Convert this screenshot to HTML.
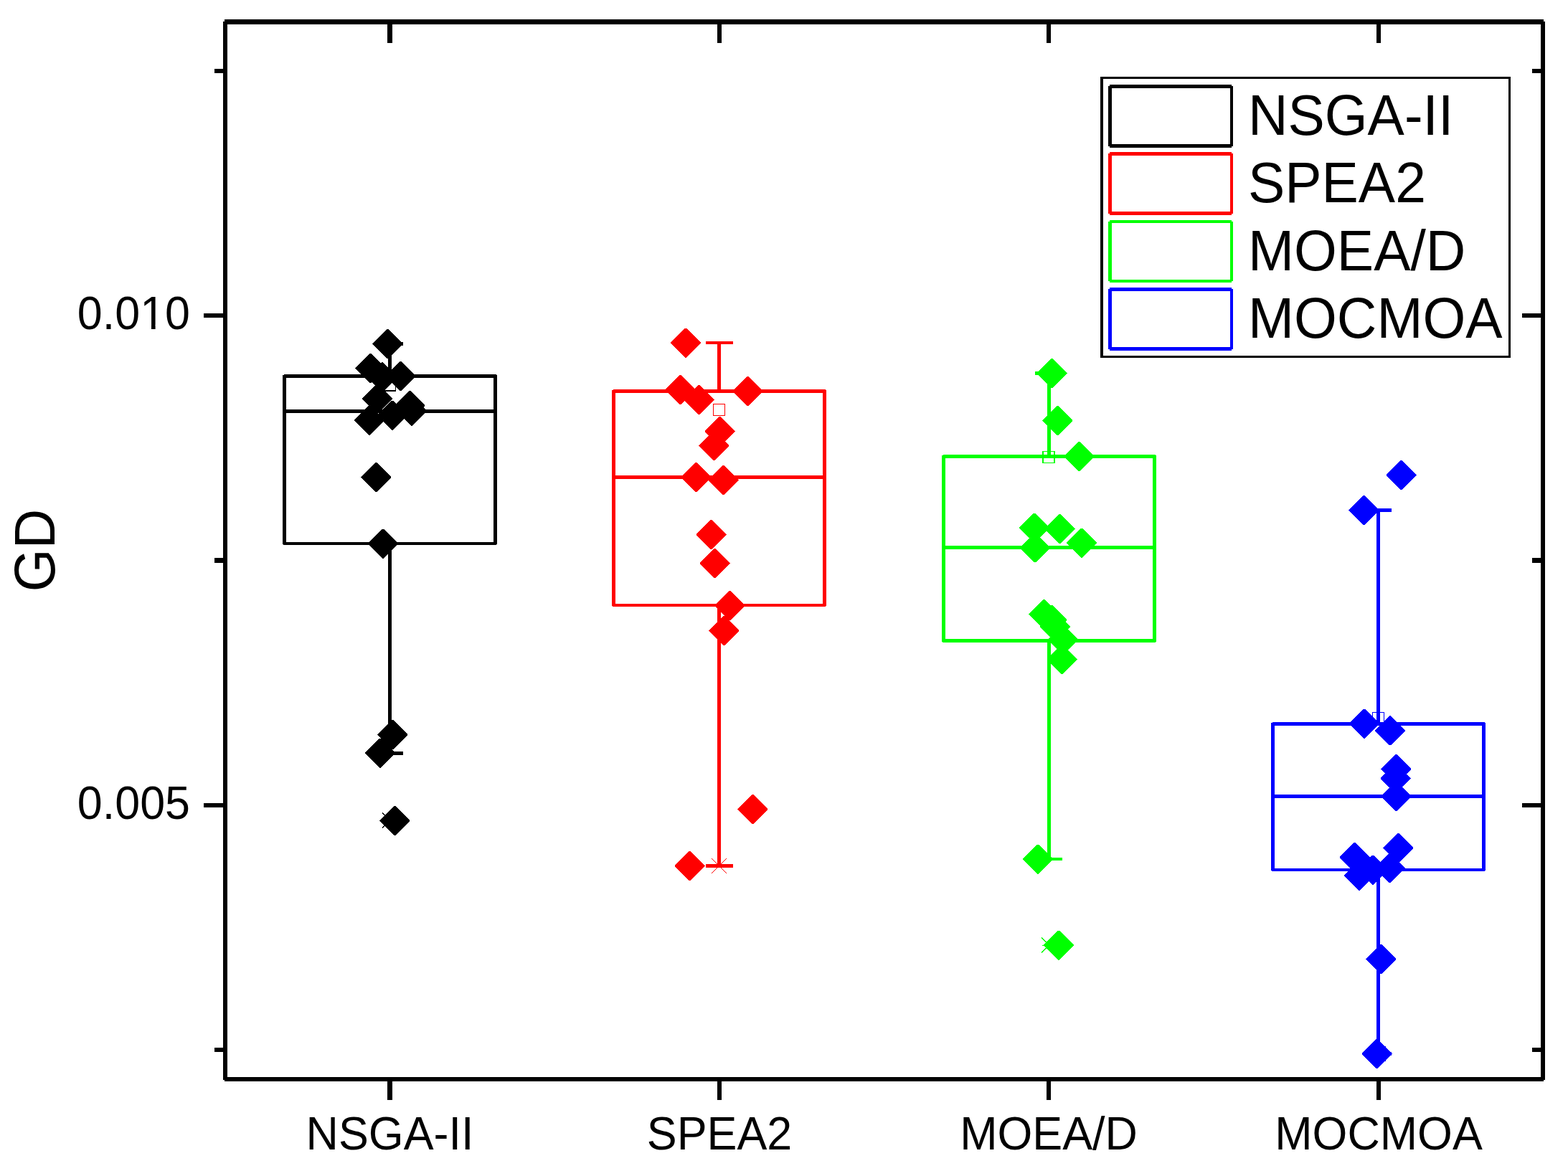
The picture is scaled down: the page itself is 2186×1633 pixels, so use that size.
<!DOCTYPE html>
<html lang="en">
<head>
<meta charset="utf-8">
<title>GD box plot</title>
<style>
html,body{margin:0;padding:0;background:#fff;}
body{width:2186px;height:1633px;overflow:hidden;}
svg{display:block;}
svg text{font-family:"Liberation Sans",Arial,Helvetica,sans-serif;font-kerning:none;}
</style>
</head>
<body>
<svg width="2186" height="1633" viewBox="0 0 2186 1633">
<rect x="0" y="0" width="2186" height="1633" fill="#ffffff"/>
<g shape-rendering="crispEdges">
<rect x="313" y="27" width="1839" height="7" fill="#000"/>
<rect x="313" y="1502" width="1839" height="6" fill="#000"/>
<rect x="311" y="30" width="6" height="1476" fill="#000"/>
<rect x="2148" y="30" width="6" height="1476" fill="#000"/>
<rect x="540" y="34" width="6.5" height="26" fill="#000"/>
<rect x="540" y="1508" width="6.5" height="26" fill="#000"/>
<rect x="999.5" y="34" width="6.5" height="26" fill="#000"/>
<rect x="999.5" y="1508" width="6.5" height="26" fill="#000"/>
<rect x="1458.5" y="34" width="6.5" height="26" fill="#000"/>
<rect x="1458.5" y="1508" width="6.5" height="26" fill="#000"/>
<rect x="1918.5" y="34" width="6.5" height="26" fill="#000"/>
<rect x="1918.5" y="1508" width="6.5" height="26" fill="#000"/>
<rect x="284" y="437" width="27" height="6" fill="#000"/>
<rect x="2122" y="437" width="26" height="6" fill="#000"/>
<rect x="284" y="1120" width="27" height="6" fill="#000"/>
<rect x="2122" y="1120" width="26" height="6" fill="#000"/>
<rect x="299" y="96" width="12" height="6" fill="#000"/>
<rect x="2136" y="96" width="12" height="6" fill="#000"/>
<rect x="299" y="778" width="12" height="7" fill="#000"/>
<rect x="2136" y="778" width="12" height="7" fill="#000"/>
<rect x="299" y="1461" width="12" height="6" fill="#000"/>
<rect x="2136" y="1461" width="12" height="6" fill="#000"/>
</g>
<g fill="#000000" stroke="none" shape-rendering="crispEdges">
<rect x="396" y="522" width="296" height="5" fill="#000000"/>
<rect x="395" y="755.5" width="297" height="4.5" fill="#000000"/>
<rect x="394" y="523" width="5" height="236" fill="#000000"/>
<rect x="688" y="523" width="5" height="236" fill="#000000"/>
<rect x="394" y="571" width="299" height="5" fill="#000000"/>
<rect x="541" y="479.5" width="5" height="42.5" fill="#000000"/>
<rect x="541" y="760" width="5" height="290.5" fill="#000000"/>
<rect x="524" y="477" width="38" height="5" fill="#000000"/>
<rect x="524" y="1048" width="38" height="5" fill="#000000"/>
</g>
<g fill="none" stroke="#000000" stroke-width="1.25" shape-rendering="crispEdges">
<rect x="535.5" y="529" width="16" height="16"/>
<path d="M533 1133.8L554 1154.8M533 1154.8L554 1133.8"/>
</g>
<g fill="#000000" stroke="none" shape-rendering="crispEdges">
<polygon points="539,459 541,459 561,479 561,480 541,500 539,500 519,480 519,479"/>
<polygon points="515,493 517,493 537,513 537,514 517,534 515,534 495,514 495,513"/>
<polygon points="557.5,504.3 559.5,504.3 579.5,524.3 579.5,525.3 559.5,545.3 557.5,545.3 537.5,525.3 537.5,524.3"/>
<polygon points="532,505.1 534,505.1 554,525.1 554,526.1 534,546.1 532,546.1 512,526.1 512,525.1"/>
<polygon points="524.9,535.7 526.9,535.7 546.9,555.7 546.9,556.7 526.9,576.7 524.9,576.7 504.9,556.7 504.9,555.7"/>
<polygon points="514.3,565.7 516.3,565.7 536.3,585.7 536.3,586.7 516.3,606.7 514.3,606.7 494.3,586.7 494.3,585.7"/>
<polygon points="545.5,558.5 547.5,558.5 567.5,578.5 567.5,579.5 547.5,599.5 545.5,599.5 525.5,579.5 525.5,578.5"/>
<polygon points="570.3,545 572.3,545 592.3,565 592.3,566 572.3,586 570.3,586 550.3,566 550.3,565"/>
<polygon points="573.3,552.7 575.3,552.7 595.3,572.7 595.3,573.7 575.3,593.7 573.3,593.7 553.3,573.7 553.3,572.7"/>
<polygon points="523.4,645 525.4,645 545.4,665 545.4,666 525.4,686 523.4,686 503.4,666 503.4,665"/>
<polygon points="532.6,737.5 534.6,737.5 554.6,757.5 554.6,758.5 534.6,778.5 532.6,778.5 512.6,758.5 512.6,757.5"/>
<polygon points="546.3,1004 548.3,1004 568.3,1024 568.3,1025 548.3,1045 546.3,1045 526.3,1025 526.3,1024"/>
<polygon points="529,1029.5 531,1029.5 551,1049.5 551,1050.5 531,1070.5 529,1070.5 509,1050.5 509,1049.5"/>
<polygon points="549.4,1123.8 551.4,1123.8 571.4,1143.8 571.4,1144.8 551.4,1164.8 549.4,1164.8 529.4,1144.8 529.4,1143.8"/>
</g>
<g fill="#ff0000" stroke="none" shape-rendering="crispEdges">
<rect x="855" y="543" width="296" height="5" fill="#ff0000"/>
<rect x="854" y="841.5" width="297" height="4.5" fill="#ff0000"/>
<rect x="853" y="544" width="5" height="301" fill="#ff0000"/>
<rect x="1147" y="544" width="5" height="301" fill="#ff0000"/>
<rect x="853" y="663" width="299" height="5" fill="#ff0000"/>
<rect x="1000" y="478" width="5" height="65" fill="#ff0000"/>
<rect x="1000" y="846" width="5" height="361.5" fill="#ff0000"/>
<rect x="984" y="476" width="38" height="4" fill="#ff0000"/>
<rect x="984" y="1205" width="38" height="5" fill="#ff0000"/>
</g>
<g fill="none" stroke="#ff0000" stroke-width="1.25" shape-rendering="crispEdges">
<rect x="994.5" y="563.5" width="16" height="16"/>
<path d="M992 1197L1013 1218M992 1218L1013 1197"/>
</g>
<g fill="#ff0000" stroke="none" shape-rendering="crispEdges">
<polygon points="954.9,457.9 956.9,457.9 976.9,477.9 976.9,478.9 956.9,498.9 954.9,498.9 934.9,478.9 934.9,477.9"/>
<polygon points="947.5,523 949.5,523 969.5,543 969.5,544 949.5,564 947.5,564 927.5,544 927.5,543"/>
<polygon points="973.7,536.9 975.7,536.9 995.7,556.9 995.7,557.9 975.7,577.9 973.7,577.9 953.7,557.9 953.7,556.9"/>
<polygon points="1041.9,525 1043.9,525 1063.9,545 1063.9,546 1043.9,566 1041.9,566 1021.9,546 1021.9,545"/>
<polygon points="1002.8,581 1004.8,581 1024.8,601 1024.8,602 1004.8,622 1002.8,622 982.8,602 982.8,601"/>
<polygon points="994.3,601 996.3,601 1016.3,621 1016.3,622 996.3,642 994.3,642 974.3,622 974.3,621"/>
<polygon points="969.2,645 971.2,645 991.2,665 991.2,666 971.2,686 969.2,686 949.2,666 949.2,665"/>
<polygon points="1007.5,648.7 1009.5,648.7 1029.5,668.7 1029.5,669.7 1009.5,689.7 1007.5,689.7 987.5,669.7 987.5,668.7"/>
<polygon points="990.6,725.3 992.6,725.3 1012.6,745.3 1012.6,746.3 992.6,766.3 990.6,766.3 970.6,746.3 970.6,745.3"/>
<polygon points="995.5,765 997.5,765 1017.5,785 1017.5,786 997.5,806 995.5,806 975.5,786 975.5,785"/>
<polygon points="1016.5,823.7 1018.5,823.7 1038.5,843.7 1038.5,844.7 1018.5,864.7 1016.5,864.7 996.5,844.7 996.5,843.7"/>
<polygon points="1008.1,859.1 1010.1,859.1 1030.1,879.1 1030.1,880.1 1010.1,900.1 1008.1,900.1 988.1,880.1 988.1,879.1"/>
<polygon points="1048.2,1107.9 1050.2,1107.9 1070.2,1127.9 1070.2,1128.9 1050.2,1148.9 1048.2,1148.9 1028.2,1128.9 1028.2,1127.9"/>
<polygon points="960.7,1187 962.7,1187 982.7,1207 982.7,1208 962.7,1228 960.7,1228 940.7,1208 940.7,1207"/>
</g>
<g fill="#00ff00" stroke="none" shape-rendering="crispEdges">
<rect x="1315" y="634" width="296" height="5" fill="#00ff00"/>
<rect x="1314" y="891" width="297" height="5" fill="#00ff00"/>
<rect x="1313" y="635" width="5" height="260" fill="#00ff00"/>
<rect x="1607" y="635" width="5" height="260" fill="#00ff00"/>
<rect x="1313" y="761" width="299" height="5" fill="#00ff00"/>
<rect x="1460" y="520.5" width="5" height="113.5" fill="#00ff00"/>
<rect x="1460" y="896" width="5" height="302" fill="#00ff00"/>
<rect x="1443" y="518" width="38" height="4.6" fill="#00ff00"/>
<rect x="1443" y="1195.5" width="38" height="4.5" fill="#00ff00"/>
</g>
<g fill="none" stroke="#00ff00" stroke-width="1.25" shape-rendering="crispEdges">
<rect x="1454" y="629.5" width="16" height="16"/>
<path d="M1452 1307.8L1473 1328.8M1452 1328.8L1473 1307.8"/>
<path d="M1452.5 1318.3L1472.5 1318.3"/>
</g>
<g fill="#00ff00" stroke="none" shape-rendering="crispEdges">
<polygon points="1465.5,500 1467.5,500 1487.5,520 1487.5,521 1467.5,541 1465.5,541 1445.5,521 1445.5,520"/>
<polygon points="1473.3,565.8 1475.3,565.8 1495.3,585.8 1495.3,586.8 1475.3,606.8 1473.3,606.8 1453.3,586.8 1453.3,585.8"/>
<polygon points="1503.5,615.9 1505.5,615.9 1525.5,635.9 1525.5,636.9 1505.5,656.9 1503.5,656.9 1483.5,636.9 1483.5,635.9"/>
<polygon points="1440.8,715.5 1442.8,715.5 1462.8,735.5 1462.8,736.5 1442.8,756.5 1440.8,756.5 1420.8,736.5 1420.8,735.5"/>
<polygon points="1476.5,716.9 1478.5,716.9 1498.5,736.9 1498.5,737.9 1478.5,757.9 1476.5,757.9 1456.5,737.9 1456.5,736.9"/>
<polygon points="1442,743.1 1444,743.1 1464,763.1 1464,764.1 1444,784.1 1442,784.1 1422,764.1 1422,763.1"/>
<polygon points="1506.8,736.5 1508.8,736.5 1528.8,756.5 1528.8,757.5 1508.8,777.5 1506.8,777.5 1486.8,757.5 1486.8,756.5"/>
<polygon points="1454.3,836 1456.3,836 1476.3,856 1476.3,857 1456.3,877 1454.3,877 1434.3,857 1434.3,856"/>
<polygon points="1465.2,844.1 1467.2,844.1 1487.2,864.1 1487.2,865.1 1467.2,885.1 1465.2,885.1 1445.2,865.1 1445.2,864.1"/>
<polygon points="1469.6,853.5 1471.6,853.5 1491.6,873.5 1491.6,874.5 1471.6,894.5 1469.6,894.5 1449.6,874.5 1449.6,873.5"/>
<polygon points="1481,871.5 1483,871.5 1503,891.5 1503,892.5 1483,912.5 1481,912.5 1461,892.5 1461,891.5"/>
<polygon points="1479.5,898.7 1481.5,898.7 1501.5,918.7 1501.5,919.7 1481.5,939.7 1479.5,939.7 1459.5,919.7 1459.5,918.7"/>
<polygon points="1445.7,1177.5 1447.7,1177.5 1467.7,1197.5 1467.7,1198.5 1447.7,1218.5 1445.7,1218.5 1425.7,1198.5 1425.7,1197.5"/>
<polygon points="1475,1297.5 1477,1297.5 1497,1317.5 1497,1318.5 1477,1338.5 1475,1338.5 1455,1318.5 1455,1317.5"/>
</g>
<g fill="#0000ff" stroke="none" shape-rendering="crispEdges">
<rect x="1774" y="1007" width="296" height="5" fill="#0000ff"/>
<rect x="1773" y="1210.5" width="297" height="4.5" fill="#0000ff"/>
<rect x="1772" y="1008" width="5" height="206" fill="#0000ff"/>
<rect x="2066" y="1008" width="5" height="206" fill="#0000ff"/>
<rect x="1772" y="1108" width="299" height="5" fill="#0000ff"/>
<rect x="1919" y="711.5" width="5" height="295.5" fill="#0000ff"/>
<rect x="1919" y="1215" width="5" height="254.5" fill="#0000ff"/>
<rect x="1902" y="709" width="38" height="5" fill="#0000ff"/>
<rect x="1902" y="1467" width="38" height="5" fill="#0000ff"/>
</g>
<g fill="none" stroke="#0000ff" stroke-width="1.25" shape-rendering="crispEdges">
<rect x="1913.5" y="993.5" width="16" height="16"/>
<path d="M1911 1459L1932 1480M1911 1480L1932 1459"/>
</g>
<g fill="#0000ff" stroke="none" shape-rendering="crispEdges">
<polygon points="1952.5,641.8 1954.5,641.8 1974.5,661.8 1974.5,662.8 1954.5,682.8 1952.5,682.8 1932.5,662.8 1932.5,661.8"/>
<polygon points="1900.3,690.9 1902.3,690.9 1922.3,710.9 1922.3,711.9 1902.3,731.9 1900.3,731.9 1880.3,711.9 1880.3,710.9"/>
<polygon points="1901,988.9 1903,988.9 1923,1008.9 1923,1009.9 1903,1029.9 1901,1029.9 1881,1009.9 1881,1008.9"/>
<polygon points="1936.8,998.3 1938.8,998.3 1958.8,1018.3 1958.8,1019.3 1938.8,1039.3 1936.8,1039.3 1916.8,1019.3 1916.8,1018.3"/>
<polygon points="1945.3,1052 1947.3,1052 1967.3,1072 1967.3,1073 1947.3,1093 1945.3,1093 1925.3,1073 1925.3,1072"/>
<polygon points="1944.6,1065.2 1946.6,1065.2 1966.6,1085.2 1966.6,1086.2 1946.6,1106.2 1944.6,1106.2 1924.6,1086.2 1924.6,1085.2"/>
<polygon points="1945,1090 1947,1090 1967,1110 1967,1111 1947,1131 1945,1131 1925,1111 1925,1110"/>
<polygon points="1948.3,1162.3 1950.3,1162.3 1970.3,1182.3 1970.3,1183.3 1950.3,1203.3 1948.3,1203.3 1928.3,1183.3 1928.3,1182.3"/>
<polygon points="1887.6,1174.8 1889.6,1174.8 1909.6,1194.8 1909.6,1195.8 1889.6,1215.8 1887.6,1215.8 1867.6,1195.8 1867.6,1194.8"/>
<polygon points="1912.8,1192.5 1914.8,1192.5 1934.8,1212.5 1934.8,1213.5 1914.8,1233.5 1912.8,1233.5 1892.8,1213.5 1892.8,1212.5"/>
<polygon points="1894.3,1200.7 1896.3,1200.7 1916.3,1220.7 1916.3,1221.7 1896.3,1241.7 1894.3,1241.7 1874.3,1221.7 1874.3,1220.7"/>
<polygon points="1936.5,1189.8 1938.5,1189.8 1958.5,1209.8 1958.5,1210.8 1938.5,1230.8 1936.5,1230.8 1916.5,1210.8 1916.5,1209.8"/>
<polygon points="1924.4,1317.1 1926.4,1317.1 1946.4,1337.1 1946.4,1338.1 1926.4,1358.1 1924.4,1358.1 1904.4,1338.1 1904.4,1337.1"/>
<polygon points="1918.6,1449 1920.6,1449 1940.6,1469 1940.6,1470 1920.6,1490 1918.6,1490 1898.6,1470 1898.6,1469"/>
</g>
<g shape-rendering="crispEdges">
<rect x="1534" y="107" width="572" height="392" fill="#000"/>
<rect x="1538" y="110" width="565" height="386" fill="#fff"/>
</g>
<g fill="#000000" shape-rendering="crispEdges">
<rect x="1547" y="118" width="170" height="5" fill="#000000"/>
<rect x="1547" y="201" width="170" height="5" fill="#000000"/>
<rect x="1545" y="120" width="5" height="84" fill="#000000"/>
<rect x="1715" y="120" width="4" height="84" fill="#000000"/>
</g>
<g fill="#ff0000" shape-rendering="crispEdges">
<rect x="1547" y="212" width="170" height="5" fill="#ff0000"/>
<rect x="1547" y="295" width="170" height="5" fill="#ff0000"/>
<rect x="1545" y="214" width="5" height="84" fill="#ff0000"/>
<rect x="1715" y="214" width="4" height="84" fill="#ff0000"/>
</g>
<g fill="#00ff00" shape-rendering="crispEdges">
<rect x="1547" y="307" width="170" height="4" fill="#00ff00"/>
<rect x="1547" y="390" width="170" height="4" fill="#00ff00"/>
<rect x="1545" y="309" width="5" height="83" fill="#00ff00"/>
<rect x="1715" y="309" width="4" height="83" fill="#00ff00"/>
</g>
<g fill="#0000ff" shape-rendering="crispEdges">
<rect x="1547" y="401" width="170" height="5" fill="#0000ff"/>
<rect x="1547" y="484" width="170" height="5" fill="#0000ff"/>
<rect x="1545" y="403" width="5" height="84" fill="#0000ff"/>
<rect x="1715" y="403" width="4" height="84" fill="#0000ff"/>
</g>
<g font-size="76.9px" fill="#000">
<text transform="translate(1740 188) scale(1 1.043)">NSGA-II</text>
<text transform="translate(1740 282) scale(1 1.043)">SPEA2</text>
<text transform="translate(1740 377) scale(1 1.043)">MOEA/D</text>
<text transform="translate(1740 471) scale(1 1.043)">MOCMOA</text>
</g>
<g font-size="62.8px" fill="#000">
<text transform="translate(543.5 1603) scale(1 1.043)" text-anchor="middle">NSGA-II</text>
<text transform="translate(1003 1603) scale(1 1.043)" text-anchor="middle">SPEA2</text>
<text transform="translate(1462 1603) scale(1 1.043)" text-anchor="middle">MOEA/D</text>
<text transform="translate(1922 1603) scale(1 1.043)" text-anchor="middle">MOCMOA</text>
<text transform="translate(265 459.4) scale(1 1.043)" text-anchor="end">0.010</text>
<text transform="translate(265 1142.4) scale(1 1.043)" text-anchor="end">0.005</text>
</g>
<g fill="#fff">
<rect x="199" y="453.4" width="12" height="6.6" fill="#fff"/>
<rect x="216.6" y="453.4" width="11.4" height="6.6" fill="#fff"/>
</g>
<text font-size="76.9px" fill="#000" text-anchor="middle" transform="translate(76 767.5) rotate(-90) scale(1 1.043)">GD</text>
</svg>
</body>
</html>
